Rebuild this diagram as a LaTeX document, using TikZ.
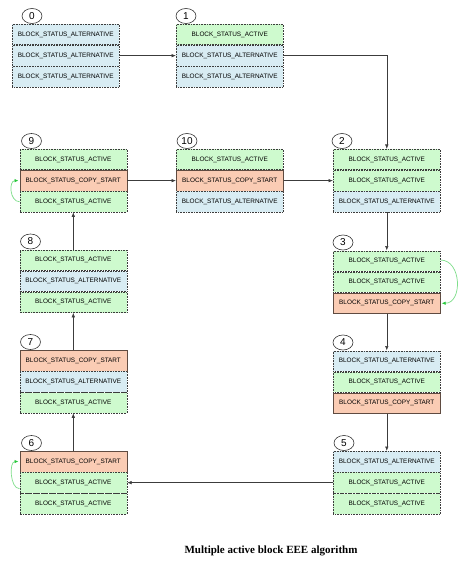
\documentclass[tikz,border=0pt]{standalone}
\usepackage{fontspec}
\setmainfont{Liberation Sans}
\newfontfamily\capfont{Liberation Serif}
\usetikzlibrary{arrows.meta,shapes.geometric}
\definecolor{actfill}{RGB}{206,250,206}
\definecolor{altfill}{RGB}{216,236,243}
\definecolor{cpfill}{RGB}{250,204,180}
\definecolor{edgegray}{RGB}{60,60,60}
\definecolor{loopgreen}{RGB}{40,200,60}
\def\txtact{BLOCK\_STATUS\_ACTIVE}
\def\txtalt{BLOCK\_STATUS\_ALTERNATIVE}
\def\txtcp{BLOCK\_STATUS\_COPY\_START}
\tikzset{
  row/.style={minimum width=107pt, minimum height=20.5pt, inner sep=0pt,
    font=\fontsize{6.4}{7}\selectfont, text=black},
  act/.style={row, fill=actfill, draw=edgegray, densely dotted, line width=0.6pt},
  alt/.style={row, fill=altfill, draw=edgegray, densely dotted, line width=0.6pt},
  cp/.style={row, fill=cpfill, draw={rgb,255:red,95;green,75;blue,65}, line width=0.6pt},
  num/.style={ellipse, draw=black!80, line width=0.6pt, minimum width=20pt,
    minimum height=15pt, inner sep=0pt, font=\fontsize{10}{11}\selectfont},
  arr/.style={draw=edgegray, line width=0.6pt, -{Latex[length=4.5pt,width=3.5pt]}},
  selfloop/.style={draw=loopgreen!60!white, line width=0.7pt,
    -{Latex[length=4pt,width=3.5pt,fill=loopgreen,color=loopgreen]}},
}
\newcommand\drawblock[7]{%
  \node[#5, anchor=north west] (#1a) at (#2,#3) {\csname txt#5\endcsname};
  \node[#6, anchor=north] (#1b) at (#1a.south) {\csname txt#6\endcsname};
  \node[#7, anchor=north] (#1c) at (#1b.south) {\csname txt#7\endcsname};
  \node[num] (#1n) at ([xshift=#4pt, yshift=8pt]#1a.north west) {\csname lbl#1\endcsname};
}
\def\lblbA{0}\def\lblbB{1}\def\lblbC{2}\def\lblbD{3}\def\lblbE{4}\def\lblbF{5}
\def\lblbG{6}\def\lblbH{7}\def\lblbI{8}\def\lblbJ{9}\def\lblbK{10}
\begin{document}
\begin{tikzpicture}[x=1pt,y=-1pt]
\path[fill=white] (0,0) rectangle (474,561);
\useasboundingbox (0,0) rectangle (474,561);
% blocks
\drawblock{bA}{12}{24}{20}{alt}{alt}{alt}
\drawblock{bB}{176}{24}{10}{act}{alt}{alt}
\drawblock{bJ}{19.5}{149}{12}{act}{cp}{act}
\drawblock{bK}{176}{149}{11}{act}{cp}{alt}
\drawblock{bC}{333}{149}{9}{act}{act}{alt}
\drawblock{bD}{333}{250.5}{10}{act}{act}{cp}
\drawblock{bE}{333}{350.5}{10}{alt}{act}{cp}
\drawblock{bF}{333}{451}{11}{alt}{act}{act}
\drawblock{bI}{19.5}{249.5}{11}{act}{alt}{act}
\drawblock{bH}{19.5}{350}{11}{cp}{alt}{act}
\drawblock{bG}{19.5}{451}{12}{cp}{act}{act}
% connectors
\draw[arr] (bAb.east) -- (bBb.west);
\draw[arr] (bBb.east) -| (bCa.north);
\draw[arr] (bJb.east) -- (bKb.west);
\draw[arr] (bKb.east) -- (bCb.west);
\draw[arr] (bCc.south) -- (bDa.north);
\draw[arr] (bDc.south) -- (bEa.north);
\draw[arr] (bEc.south) -- (bFa.north);
\draw[arr] (bFb.west) -- (bGb.east);
\draw[arr] (bGa.north) -- (bHc.south);
\draw[arr] (bHa.north) -- (bIc.south);
\draw[arr] (bIa.north) -- (bJc.south);
% self loops
\draw[selfloop] ([yshift=1pt]bDa.east) to[out=0,in=0,looseness=1.25] ([xshift=1pt]bDc.east);
\draw[selfloop] ([yshift=-6pt]bGb.west) to[out=180,in=180,looseness=0.9] ([xshift=-1pt]bGa.west);
\draw[selfloop] (bJc.west) to[out=180,in=180,looseness=1.2] ([xshift=-1pt]bJb.west);
% caption
\node[font=\capfont\bfseries\fontsize{11}{13}\selectfont] (cap) at (271,551) {Multiple active block EEE algorithm};
\end{tikzpicture}
\end{document}
